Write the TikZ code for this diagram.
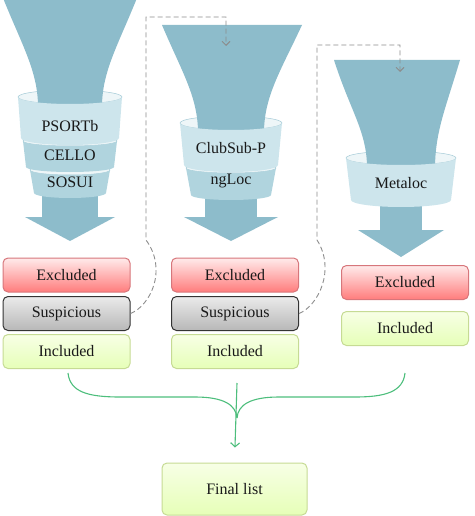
\documentclass[tikz,border=0pt]{standalone}
\usepackage{fontspec}
\setmainfont{Liberation Serif}
\usetikzlibrary{arrows.meta}

\definecolor{funnelblue}{HTML}{8DBCCB}
\definecolor{bandlight}{HTML}{CDE5EC}
\definecolor{banddark}{HTML}{B0D4DE}
\definecolor{ringtop}{HTML}{EEF6F8}
\definecolor{ringline}{HTML}{A3CAD6}
\definecolor{exline}{HTML}{D7767B}
\definecolor{inline}{HTML}{C6DB94}
\definecolor{mergegreen}{HTML}{4DBE7C}

\tikzset{
  funnel/.style={fill=funnelblue},
  ringface/.style={fill=ringtop,draw=ringline,line width=0.5pt},
  bandhi/.style={fill=bandlight},
  bandlo/.style={fill=banddark},
  tooltxt/.style={font=\fontsize{16}{18}\selectfont,text=black!90},
  box/.style={rounded corners=5pt,minimum width=127pt,minimum height=34pt,
    line width=1pt,font=\fontsize{16}{18}\selectfont,text=black!90},
  excl/.style={box,draw=exline,top color=red!8,bottom color=red!35!pink},
  susp/.style={box,draw=black!80,top color=black!8,bottom color=black!28},
  incl/.style={box,draw=inline,top color=green!30!yellow!10,bottom color=green!35!yellow!28},
  loopback/.style={draw=black!45,line width=0.9pt,dash pattern=on 5pt off 3pt},
  merge/.style={draw=mergegreen,line width=1.1pt},
}

\begin{document}
\begin{tikzpicture}[x=1pt,y=-1pt]
  \useasboundingbox (0,0) rectangle (474,516);

  % funnel 1
  \fill[funnel] (42,192) rectangle (98,218);
  \fill[funnel] (25,217) -- (115,217) -- (70,241) -- cycle;
  \fill[ringface] (70,170) ellipse [x radius=40,y radius=5];
  \fill[bandlo] (30,170) arc[start angle=180,end angle=0,x radius=40,y radius=5]
    -- (106,193) arc[start angle=0,end angle=180,x radius=36,y radius=5] -- cycle;
  \fill[ringface] (70,141) ellipse [x radius=47,y radius=5];
  \fill[bandlo] (23,141) arc[start angle=180,end angle=0,x radius=47,y radius=5]
    -- (114,167) arc[start angle=0,end angle=180,x radius=44,y radius=5] -- cycle;
  \filldraw[ringface] (70,97) ellipse [x radius=52,y radius=7];
  \fill[funnel] (3,-2) .. controls (22,45) and (37,70) .. (38,104)
    -- (102,104) .. controls (103,70) and (118,45) .. (137,-2) -- cycle;
  \fill[bandhi] (18,97) arc[start angle=180,end angle=0,x radius=52,y radius=7]
    -- (119,138) arc[start angle=0,end angle=180,x radius=49,y radius=7] -- cycle;
  \node[tooltxt] (psortb) at (70,126) {PSORTb};
  \node[tooltxt] (cello) at (70,155) {CELLO};
  \node[tooltxt] (sosui) at (70,182) {SOSUI};

  % funnel 2
  \fill[funnel] (205,193) rectangle (257,218);
  \fill[funnel] (184,217) -- (278,217) -- (231,241) -- cycle;
  \fill[ringface] (231,168) ellipse [x radius=45,y radius=5];
  \fill[bandlo] (186,168) arc[start angle=180,end angle=0,x radius=45,y radius=5]
    -- (271,195) arc[start angle=0,end angle=180,x radius=40,y radius=5] -- cycle;
  \filldraw[ringface] (231,123) ellipse [x radius=51,y radius=7];
  \fill[funnel] (162,25) .. controls (181,70) and (197,95) .. (198,130)
    -- (264,130) .. controls (265,95) and (281,70) .. (302,25) -- cycle;
  \fill[bandhi] (180,123) arc[start angle=180,end angle=0,x radius=51,y radius=7]
    -- (278,165) arc[start angle=0,end angle=180,x radius=47,y radius=7] -- cycle;
  \node[tooltxt] (clubsub) at (231,148) {ClubSub-P};
  \node[tooltxt] (ngloc) at (231,181) {ngLoc};

  % funnel 3
  \fill[funnel] (380,198) rectangle (422,231);
  \fill[funnel] (358,230) -- (444,230) -- (401,257) -- cycle;
  \filldraw[ringface] (401,158) ellipse [x radius=55,y radius=7];
  \fill[funnel] (334,60) .. controls (350,110) and (366,130) .. (367,165)
    -- (435,165) .. controls (436,130) and (445,110) .. (460,60) -- cycle;
  \fill[bandhi] (346,158) arc[start angle=180,end angle=0,x radius=55,y radius=7]
    -- (451,200) arc[start angle=0,end angle=180,x radius=50,y radius=7] -- cycle;
  \node[tooltxt] (metaloc) at (401,183) {Metaloc};

  % result boxes
  \node[excl] (e1) at (66.5,275) {Excluded};
  \node[susp] (s1) at (66.5,313.5) {Suspicious};
  \node[incl] (i1) at (66.5,351.5) {Included};
  \node[excl] (e2) at (235,275) {Excluded};
  \node[susp] (s2) at (235,313.5) {Suspicious};
  \node[incl] (i2) at (235,351.5) {Included};
  \node[excl] (e3) at (405,282.5) {Excluded};
  \node[incl] (i3) at (405,328.5) {Included};
  \node[incl,minimum width=145pt,minimum height=52pt] (fin) at (234.5,489) {Final list};

  % suspicious ones go round again
  \coordinate (in2) at (226,46);
  \coordinate (in3) at (400,72);
  \draw[loopback,-{Straight Barb[length=4pt,width=8pt]}] (s1.east)
    .. controls (150,306) and (168,270) .. (146,240) -- (146,17) -- (226,17) -- (in2);
  \draw[loopback,-{Straight Barb[length=4pt,width=8pt]}] (s2.east)
    .. controls (318,306) and (336,270) .. (317,240) -- (317,45) -- (400,45) -- (in3);

  % merge into final list
  \coordinate (b1) at (68,373);
  \coordinate (b3) at (405,373);
  \coordinate (b2) at (237,383);
  \coordinate (join) at (237,418);
  \draw[merge] (b1) .. controls (70,392) and (88,397) .. (120,397) -- (195,397)
    .. controls (224,397) and (236,405) .. (join);
  \draw[merge] (b3) .. controls (403,392) and (385,397) .. (355,397) -- (279,397)
    .. controls (250,397) and (238,405) .. (join);
  \draw[merge,-{Straight Barb[length=4pt,width=9pt]},shorten >=15pt] (b2) -- (fin.north);
\end{tikzpicture}
\end{document}
